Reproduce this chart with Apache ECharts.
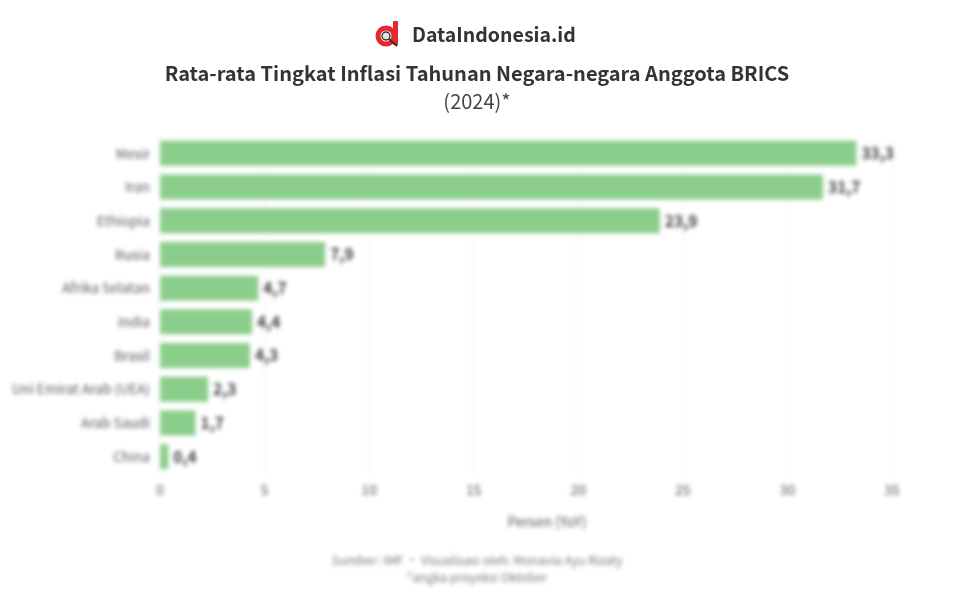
<!DOCTYPE html>
<html>
<head>
<meta charset="utf-8">
<style>
  html, body { margin: 0; padding: 0; background: #fff; }
  #wrap { position: relative; width: 954px; height: 596px; overflow: hidden; }
  #head, #plot { position: absolute; left: 0; width: 954px; }
  #head { top: 0; height: 125px; }
  #plot { top: 125px; height: 471px; filter: blur(2.2px); }
</style>
<script src="https://cdn.jsdelivr.net/npm/echarts@6/dist/echarts.min.js"></script>
</head>
<body>
<div id="wrap">
  <div id="plot"></div>
  <div id="head"></div>
</div>
<script>
const FONT = '"Noto Sans CJK SC", "Noto Sans", sans-serif';

const categories = ['Mesir', 'Iran', 'Ethiopia', 'Rusia', 'Afrika Selatan', 'India', 'Brasil', 'Uni Emirat Arab (UEA)', 'Arab Saudi', 'China'];
const inflation = [33.3, 31.7, 23.9, 7.9, 4.7, 4.4, 4.3, 2.3, 1.7, 0.4];
const xTicks = { min: 0, max: 35, interval: 5 };

const brand = 'DataIndonesia.id';
const titleText = 'Rata-rata Tingkat Inflasi Tahunan Negara-negara Anggota BRICS';
const subtitleText = '(2024)*';
const axisName = 'Persen (YoY)';
const sourceText = 'Sumber: IMF • Visualisasi oleh: Monavia Ayu Rizaty';
const noteText = '*angka proyeksi Oktober';

const head = echarts.init(document.getElementById('head'), null, { renderer: 'canvas' });
head.setOption({
  animation: false,
  graphic: [
    // logo
    { type: 'circle', shape: { cx: 386, cy: 36, r: 8 }, style: { fill: '#fff', stroke: '#e8262c', lineWidth: 5 } },
    { type: 'rect', shape: { x: 393, y: 21, width: 5, height: 24, r: 1 }, style: { fill: '#e8262c' } },
    { type: 'circle', shape: { cx: 386, cy: 36, r: 4 }, style: { fill: '#dfe7ea', stroke: '#333', lineWidth: 1.4 } },
    { type: 'line', shape: { x1: 389, y1: 39, x2: 397, y2: 46 }, style: { stroke: '#333', lineWidth: 2.2 } },
    // header text
    { type: 'text', style: { x: 412, y: 35, text: brand, fill: '#333', font: 'bold 19.5px ' + FONT, align: 'left', verticalAlign: 'middle' } },
    { type: 'text', style: { x: 477, y: 73.5, text: titleText, fill: '#333', font: 'bold 20px ' + FONT, align: 'center', verticalAlign: 'middle' } },
    { type: 'text', style: { x: 477, y: 101, text: subtitleText, fill: '#444', font: '20px ' + FONT, align: 'center', verticalAlign: 'middle' } },
  ],
});

const plot = echarts.init(document.getElementById('plot'), null, { renderer: 'canvas' });
plot.setOption({
  animation: false,
  grid: { left: 160, right: 62, top: 11.5, height: 337, containLabel: false },
  xAxis: {
    type: 'value',
    min: xTicks.min,
    max: xTicks.max,
    interval: xTicks.interval,
    name: axisName,
    nameLocation: 'middle',
    nameGap: 41,
    nameTextStyle: { color: '#555', fontSize: 14, fontFamily: FONT, padding: [0, 0, 0, 42] },
    axisLine: { show: false },
    axisTick: { show: false },
    axisLabel: { color: '#555', fontSize: 14, margin: 9, fontFamily: FONT },
    splitLine: { lineStyle: { color: '#f2f2f2', width: 1 } },
  },
  yAxis: {
    type: 'category',
    inverse: true,
    data: categories,
    axisLine: { show: false },
    axisTick: { show: false },
    axisLabel: { color: '#555', fontSize: 13.7, margin: 10, fontFamily: FONT },
  },
  series: [
    {
      type: 'bar',
      data: inflation,
      barWidth: 25,
      itemStyle: { color: '#8bce8b' },
      label: {
        show: true,
        position: 'right',
        distance: 5,
        color: '#3a3a3a',
        fontSize: 15.5,
        fontWeight: 'bold',
        fontFamily: FONT,
        formatter: (params) => params.value.toFixed(1).replace('.', ','),
      },
    },
  ],
  graphic: [
    { type: 'text', style: { x: 477, y: 435, text: sourceText, fill: '#777', font: '12.2px ' + FONT, align: 'center', verticalAlign: 'middle' } },
    { type: 'text', style: { x: 477, y: 452, text: noteText, fill: '#777', font: '12.2px ' + FONT, align: 'center', verticalAlign: 'middle' } },
  ],
});
</script>
</body>
</html>
